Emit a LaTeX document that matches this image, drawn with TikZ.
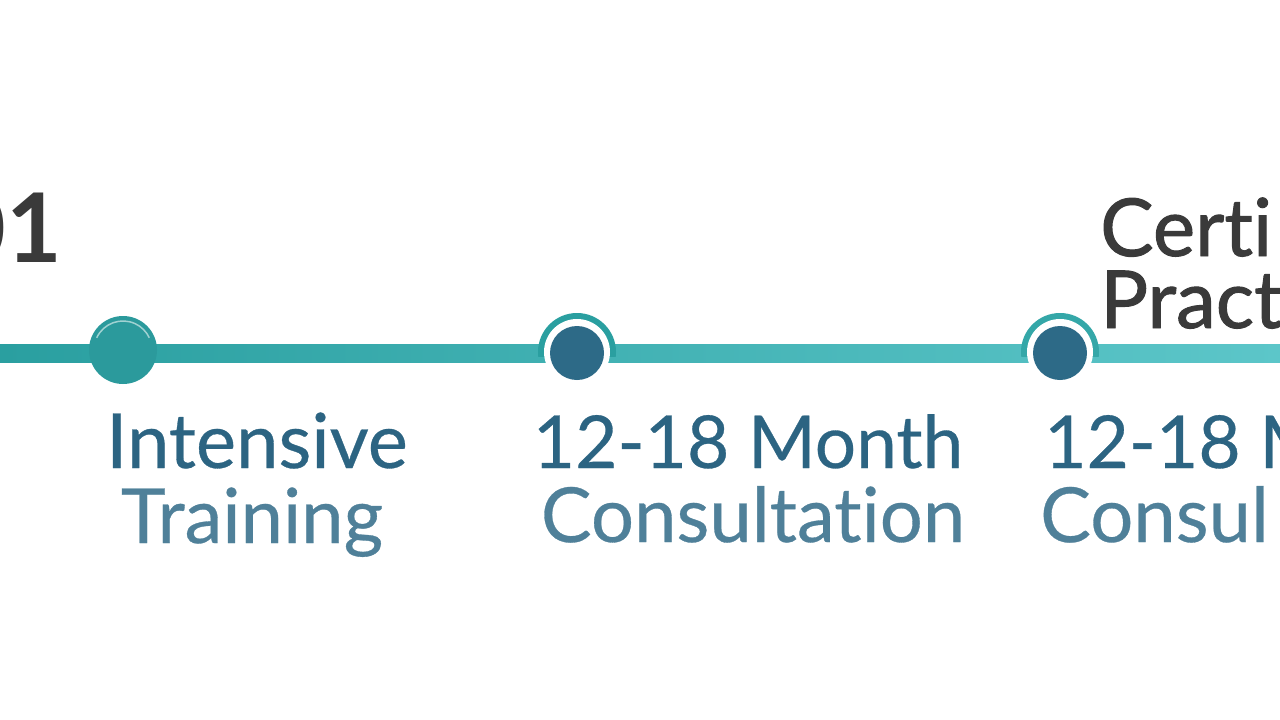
\documentclass[tikz,border=0pt]{standalone}
\usepackage{fontspec}
\setmainfont[Ligatures={NoCommon}]{Lato}
\usetikzlibrary{shadings}
\definecolor{teal1}{HTML}{2A9FA0}
\definecolor{teal2}{HTML}{5CC6C9}
\definecolor{tealdot}{HTML}{2B9A9C}
\definecolor{darkdot}{HTML}{2D6A87}
\definecolor{lblA}{HTML}{2C6482}
\definecolor{lblB}{HTML}{4F8099}
\definecolor{gray1}{HTML}{3A3A3A}
\tikzset{
  lblone/.style={anchor=base, text=lblA, font=\fontsize{76}{80}\selectfont\addfontfeature{FakeBold=0.4}, inner sep=0pt},
  lbltwo/.style={anchor=base, text=lblB, font=\fontsize{76}{80}\selectfont\addfontfeature{FakeBold=0.4}, inner sep=0pt},
  toplbl/.style={anchor=base west, text=gray1, font=\fontsize{80}{84}\selectfont\addfontfeature{FakeBold=1.2}, inner sep=0pt},
}
\begin{document}
\begin{tikzpicture}[x=1pt,y=-1pt]
\useasboundingbox (0,0) rectangle (1280,720);
\clip (0,0) rectangle (1280,720);
\fill[white] (0,0) rectangle (1280,720);
% timeline bar
\shade[left color=teal1, right color=teal2] (0,344) rectangle (1280,362);
% bump arcs at milestone 2 and 3
\begin{scope}
\clip (0,300) rectangle (1280,356);
\fill[teal1] (577,352) circle (39);
\fill[teal1!80!teal2] (1060,352) circle (39);
\end{scope}
\fill[white] (577,352) circle (33);
\fill[white] (1060,352) circle (33);
% milestones
\node[circle, fill=tealdot, minimum size=68pt, inner sep=0pt] (m1) at (123,350) {};
\draw[white!55!tealdot, line width=1.5pt] (123,350) ++(-155:29) arc[start angle=-155, end angle=-25, radius=29];
\node[circle, fill=darkdot, minimum size=54pt, inner sep=0pt] (m2) at (577,353) {};
\node[circle, fill=darkdot, minimum size=54pt, inner sep=0pt] (m3) at (1060,353) {};
% labels
\node[lblone] (l1a) at (257,468) {Intensive};
\node[lbltwo] (l1b) at (252,543) {Training};
\node[lblone, font=\fontsize{73}{78}\selectfont\addfontfeature{FakeBold=0.4}] (l2a) at (748,468) {12-18 Month};
\node[lbltwo] (l2b) at (753,542) {Consultation};
\node[lblone, anchor=base west, font=\fontsize{73}{78}\selectfont\addfontfeature{FakeBold=0.4}] (l3a) at (1044,468) {12-18 M};
\node[lbltwo, anchor=base west] (l3b) at (1040,542) {Consul};
% top labels
\node[toplbl] (t1) at (1100,256) {Certi};
\node[toplbl] (t2) at (1100,328) {Pract};
\node[anchor=base east, text=gray1, font=\fontsize{96}{100}\selectfont\bfseries, inner sep=0pt] (yr) at (62,262) {01};
\end{tikzpicture}
\end{document}
